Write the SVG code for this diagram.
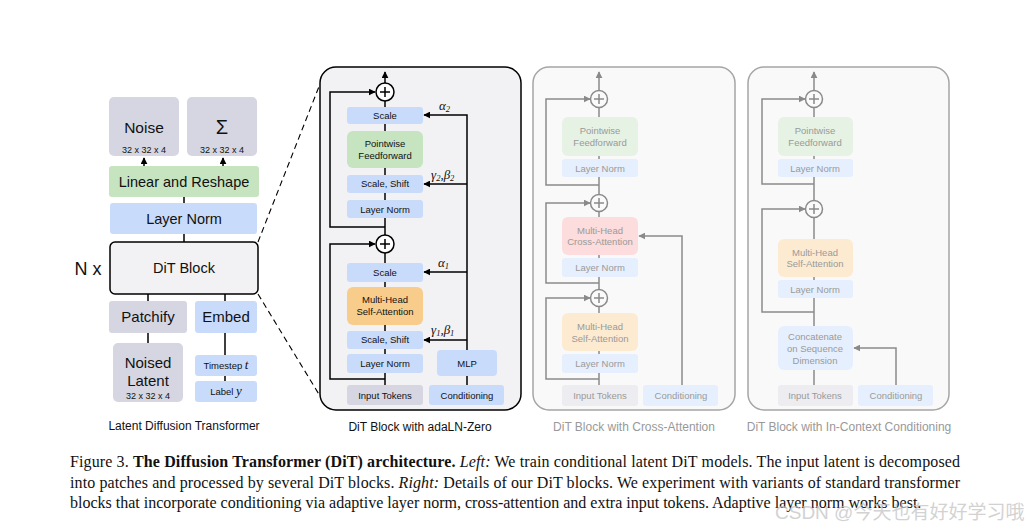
<svg xmlns="http://www.w3.org/2000/svg" width="1030" height="525" viewBox="0 0 1030 525">
<defs>
<style>
text{font-family:"Liberation Sans",Arial,sans-serif;fill:#111}
.k{stroke:#000;stroke-width:1.5;fill:none}
.g{stroke:#8a8a8a;stroke-width:1.5;fill:none}
.d{stroke:#000;stroke-width:1.1;fill:none;stroke-dasharray:6 4}
.lav{fill:#d6d6e2}
.blu{fill:#c9dbfb}
.grn{fill:#c6e4c0}
.org{fill:#f8cd8c}
.lavL{fill:#ececf1}
.bluL{fill:#e6effd}
.grnL{fill:#e6f2e3}
.orgL{fill:#fcebd1}
.redL{fill:#fcdcdc}
.t9{font-size:9.5px;text-anchor:middle}
.gt{font-size:9.5px;text-anchor:middle;fill:#9a9a9a}
.cap{font-size:12px;text-anchor:middle}
.math{font-family:"Liberation Serif","Times New Roman",serif;font-style:italic;font-size:13px}
.ser{font-family:"Liberation Serif","Times New Roman",serif;font-size:16px}
</style>
<marker id="ak" viewBox="0 0 10 10" refX="9" refY="5" markerWidth="7" markerHeight="7" markerUnits="userSpaceOnUse" orient="auto"><path d="M0,0 L10,5 L0,10 z" fill="#000"/></marker>
<marker id="ag" viewBox="0 0 10 10" refX="9" refY="5" markerWidth="7" markerHeight="7" markerUnits="userSpaceOnUse" orient="auto"><path d="M0,0 L10,5 L0,10 z" fill="#8a8a8a"/></marker>
</defs>
<rect width="1030" height="525" fill="#fff"/>

<!-- panel backgrounds -->
<g id="panel-adaln"><rect x="320" y="67" width="201" height="343" rx="16" fill="#f2f2f4" stroke="#000" stroke-width="1.5"/></g>
<g id="panel-cross"><rect x="533" y="67" width="202" height="343" rx="16" fill="#f9f9f9" stroke="#a5a5a5" stroke-width="1.5"/></g>
<g id="panel-incontext"><rect x="748" y="67" width="201" height="343" rx="16" fill="#f9f9f9" stroke="#a5a5a5" stroke-width="1.5"/></g>

<g id="connectors">
<!-- left -->
<path class="k" d="M144,166 V158" marker-end="url(#ak)"/>
<path class="k" d="M223,166 V158" marker-end="url(#ak)"/>
<path class="k" d="M184,197 V203 M184,234 V242 M148,294 V301 M148,333 V343 M225,294 V301 M225,333 V355 M225,376 V381"/>
<path class="d" d="M258,242 L320,84 M258,294 L320,396"/>
<!-- adaLN -->
<path class="k" d="M385,385 V72" marker-end="url(#ak)"/>
<path class="k" d="M385,379 H330 V244 H375" marker-end="url(#ak)"/>
<path class="k" d="M385,227 H330 V92 H375" marker-end="url(#ak)"/>
<path class="k" d="M467,385 V115 H424" marker-end="url(#ak)"/>
<path class="k" d="M467,184 H424" marker-end="url(#ak)"/>
<path class="k" d="M467,272 H424" marker-end="url(#ak)"/>
<path class="k" d="M467,340 H424" marker-end="url(#ak)"/>
<!-- cross -->
<path class="g" d="M599,385 V72" marker-end="url(#ag)"/>
<path class="g" d="M599,379 H546 V298 H590" marker-end="url(#ag)"/>
<path class="g" d="M599,283 H546 V203 H590" marker-end="url(#ag)"/>
<path class="g" d="M599,185 H546 V99 H590" marker-end="url(#ag)"/>
<path class="g" d="M682,385 V236 H639" marker-end="url(#ag)"/>
<!-- in-context -->
<path class="g" d="M814,385 V72" marker-end="url(#ag)"/>
<path class="g" d="M814,312 H762 V209 H805" marker-end="url(#ag)"/>
<path class="g" d="M814,184 H762 V99 H805" marker-end="url(#ag)"/>
<path class="g" d="M896,385 V348 H854" marker-end="url(#ag)"/>
</g>

<!-- ===== Left ===== -->
<g id="noise"><rect class="lav" x="109" y="97" width="70" height="59" rx="5"/><text x="144" y="133" font-size="15.5" text-anchor="middle">Noise</text><text x="144" y="153" font-size="9" text-anchor="middle">32 x 32 x 4</text></g>
<g id="sigma"><rect class="lav" x="187" y="97" width="70" height="59" rx="5"/><text x="222" y="134" font-size="20" text-anchor="middle">Σ</text><text x="222" y="153" font-size="9" text-anchor="middle">32 x 32 x 4</text></g>
<g id="linear"><rect class="grn" x="109" y="166" width="150" height="31" rx="3"/><text x="184" y="187" font-size="14.5" text-anchor="middle">Linear and Reshape</text></g>
<g id="layernorm"><rect class="blu" x="110" y="203" width="147" height="31" rx="3"/><text x="184" y="224" font-size="14.5" text-anchor="middle">Layer Norm</text></g>
<g id="nx"><text x="88" y="275" font-size="18" text-anchor="middle">N x</text></g>
<g id="ditblock"><rect x="110" y="242" width="148" height="52" rx="5" fill="#f2f2f4" stroke="#000" stroke-width="1.5"/><text x="184" y="273" font-size="14.5" text-anchor="middle">DiT Block</text></g>
<g id="patchify"><rect class="lav" x="109" y="301" width="78" height="32" rx="3"/><text x="148" y="322" font-size="15" text-anchor="middle">Patchify</text></g>
<g id="embed"><rect class="blu" x="195" y="301" width="62" height="32" rx="3"/><text x="226" y="322" font-size="15" text-anchor="middle">Embed</text></g>
<g id="noised"><rect class="lav" x="113" y="343" width="70" height="59" rx="5"/><text x="148" y="368" font-size="15" text-anchor="middle">Noised</text><text x="148" y="386" font-size="15" text-anchor="middle">Latent</text><text x="148" y="399" font-size="9" text-anchor="middle">32 x 32 x 4</text></g>
<g id="timestep"><rect class="blu" x="195" y="355" width="62" height="21" rx="3"/><text x="226" y="369" font-size="9.5" text-anchor="middle">Timestep <tspan class="math" font-size="11">t</tspan></text></g>
<g id="label"><rect class="blu" x="195" y="381" width="62" height="21" rx="3"/><text x="226" y="395" font-size="9.5" text-anchor="middle">Label <tspan class="math" font-size="11">y</tspan></text></g>
<g id="cap-left"><text class="cap" x="184" y="430">Latent Diffusion Transformer</text></g>

<!-- ===== adaLN-Zero ===== -->
<g id="a-plus2"><circle cx="385" cy="92" r="9" fill="#fff" stroke="#000" stroke-width="1.5"/><path class="k" d="M380,92 H390 M385,87 V97"/></g>
<g id="a-scale2"><rect class="blu" x="347" y="107" width="76" height="17" rx="3"/><text class="t9" x="385" y="119">Scale</text></g>
<g id="a-ff"><rect class="grn" x="347" y="131" width="76" height="37" rx="6"/><text class="t9" x="385" y="147">Pointwise</text><text class="t9" x="385" y="159">Feedforward</text></g>
<g id="a-ss2"><rect class="blu" x="347" y="175" width="76" height="18" rx="3"/><text class="t9" x="385" y="187">Scale, Shift</text></g>
<g id="a-ln2"><rect class="blu" x="347" y="200" width="76" height="18" rx="3"/><text class="t9" x="385" y="213">Layer Norm</text></g>
<g id="a-plus1"><circle cx="385" cy="244" r="9" fill="#fff" stroke="#000" stroke-width="1.5"/><path class="k" d="M380,244 H390 M385,239 V249"/></g>
<g id="a-scale1"><rect class="blu" x="347" y="263" width="76" height="19" rx="3"/><text class="t9" x="385" y="276">Scale</text></g>
<g id="a-mhsa"><rect class="org" x="347" y="287" width="76" height="38" rx="6"/><text class="t9" x="385" y="303">Multi-Head</text><text class="t9" x="385" y="315">Self-Attention</text></g>
<g id="a-ss1"><rect class="blu" x="347" y="331" width="76" height="18" rx="3"/><text class="t9" x="385" y="343">Scale, Shift</text></g>
<g id="a-ln1"><rect class="blu" x="347" y="354" width="76" height="19" rx="3"/><text class="t9" x="385" y="367">Layer Norm</text></g>
<g id="a-input"><rect class="lav" x="347" y="385" width="76" height="20" rx="3"/><text class="t9" x="385" y="399">Input Tokens</text></g>
<g id="a-mlp"><rect class="blu" x="437" y="350" width="60" height="26" rx="4"/><text class="t9" x="467" y="367">MLP</text></g>
<g id="a-cond"><rect class="blu" x="429" y="385" width="75" height="20" rx="3"/><text class="t9" x="467" y="399">Conditioning</text></g>
<g id="a-labels">
<text class="math" x="439" y="110">α<tspan font-size="8.5" dy="2">2</tspan></text>
<text class="math" x="431" y="179">γ<tspan font-size="8.5" dy="2">2</tspan><tspan dy="-2">,β</tspan><tspan font-size="8.5" dy="2">2</tspan></text>
<text class="math" x="438" y="267">α<tspan font-size="8.5" dy="2">1</tspan></text>
<text class="math" x="431" y="334">γ<tspan font-size="8.5" dy="2">1</tspan><tspan dy="-2">,β</tspan><tspan font-size="8.5" dy="2">1</tspan></text>
</g>
<g id="cap-adaln"><text class="cap" x="420" y="431">DiT Block with adaLN-Zero</text></g>

<!-- ===== Cross-Attention ===== -->
<g id="c-plus3"><circle cx="599" cy="99" r="8.5" fill="#fafafa" stroke="#8a8a8a" stroke-width="1.5"/><path class="g" d="M594,99 H604 M599,94 V104"/></g>
<g id="c-ff"><rect class="grnL" x="562" y="117" width="76" height="39" rx="6"/><text class="gt" x="600" y="134">Pointwise</text><text class="gt" x="600" y="146">Feedforward</text></g>
<g id="c-ln3"><rect class="bluL" x="562" y="159" width="76" height="18" rx="3"/><text class="gt" x="600" y="172">Layer Norm</text></g>
<g id="c-plus2"><circle cx="599" cy="203" r="8.5" fill="#fafafa" stroke="#8a8a8a" stroke-width="1.5"/><path class="g" d="M594,203 H604 M599,198 V208"/></g>
<g id="c-mhca"><rect class="redL" x="562" y="217" width="76" height="38" rx="6"/><text class="gt" x="600" y="234">Multi-Head</text><text class="gt" x="600" y="245">Cross-Attention</text></g>
<g id="c-ln2"><rect class="bluL" x="562" y="258" width="76" height="19" rx="3"/><text class="gt" x="600" y="271">Layer Norm</text></g>
<g id="c-plus1"><circle cx="599" cy="298" r="8.5" fill="#fafafa" stroke="#8a8a8a" stroke-width="1.5"/><path class="g" d="M594,298 H604 M599,293 V303"/></g>
<g id="c-mhsa"><rect class="orgL" x="562" y="313" width="76" height="38" rx="6"/><text class="gt" x="600" y="330">Multi-Head</text><text class="gt" x="600" y="342">Self-Attention</text></g>
<g id="c-ln1"><rect class="bluL" x="562" y="354" width="76" height="19" rx="3"/><text class="gt" x="600" y="367">Layer Norm</text></g>
<g id="c-input"><rect class="lavL" x="562" y="385" width="76" height="21" rx="3"/><text class="gt" x="600" y="399">Input Tokens</text></g>
<g id="c-cond"><rect class="bluL" x="643" y="385" width="75" height="21" rx="3"/><text class="gt" x="681" y="399">Conditioning</text></g>
<g id="cap-cross"><text class="cap" x="634" y="431" style="fill:#999">DiT Block with Cross-Attention</text></g>

<!-- ===== In-Context ===== -->
<g id="i-plus2"><circle cx="814" cy="99" r="8.5" fill="#fafafa" stroke="#8a8a8a" stroke-width="1.5"/><path class="g" d="M809,99 H819 M814,94 V104"/></g>
<g id="i-ff"><rect class="grnL" x="778" y="117" width="75" height="39" rx="6"/><text class="gt" x="815" y="134">Pointwise</text><text class="gt" x="815" y="146">Feedforward</text></g>
<g id="i-ln2"><rect class="bluL" x="778" y="159" width="75" height="18" rx="3"/><text class="gt" x="815" y="172">Layer Norm</text></g>
<g id="i-plus1"><circle cx="814" cy="209" r="8.5" fill="#fafafa" stroke="#8a8a8a" stroke-width="1.5"/><path class="g" d="M809,209 H819 M814,204 V214"/></g>
<g id="i-mhsa"><rect class="orgL" x="778" y="239" width="75" height="38" rx="6"/><text class="gt" x="815" y="256">Multi-Head</text><text class="gt" x="815" y="267">Self-Attention</text></g>
<g id="i-ln1"><rect class="bluL" x="778" y="280" width="75" height="18" rx="3"/><text class="gt" x="815" y="293">Layer Norm</text></g>
<g id="i-concat"><rect class="bluL" x="778" y="326" width="75" height="44" rx="6"/><text class="gt" x="815" y="340">Concatenate</text><text class="gt" x="815" y="352">on Sequence</text><text class="gt" x="815" y="364">Dimension</text></g>
<g id="i-input"><rect class="lavL" x="778" y="385" width="75" height="21" rx="3"/><text class="gt" x="815" y="399">Input Tokens</text></g>
<g id="i-cond"><rect class="bluL" x="858" y="385" width="75" height="21" rx="3"/><text class="gt" x="896" y="399">Conditioning</text></g>
<g id="cap-incontext"><text class="cap" x="849" y="431" style="fill:#999">DiT Block with In-Context Conditioning</text></g>

<!-- ===== Caption ===== -->
<g id="caption">
<text class="ser" x="70" y="467" textLength="890" lengthAdjust="spacing">Figure 3. <tspan font-weight="bold">The Diffusion Transformer (DiT) architecture.</tspan> <tspan font-style="italic">Left:</tspan> We train conditional latent DiT models. The input latent is decomposed</text>
<text class="ser" x="70" y="488" textLength="890" lengthAdjust="spacing">into patches and processed by several DiT blocks. <tspan font-style="italic">Right:</tspan> Details of our DiT blocks. We experiment with variants of standard transformer</text>
<text class="ser" x="70" y="508">blocks that incorporate conditioning via adaptive layer norm, cross-attention and extra input tokens. Adaptive layer norm works best.</text>
</g>
<g id="watermark"><text x="775" y="519" font-size="19" style="fill:#c4c4c4;font-family:'Liberation Sans','Noto Sans CJK SC',sans-serif" opacity="0.75">CSDN @今天也有好好学习哦</text></g>
</svg>
